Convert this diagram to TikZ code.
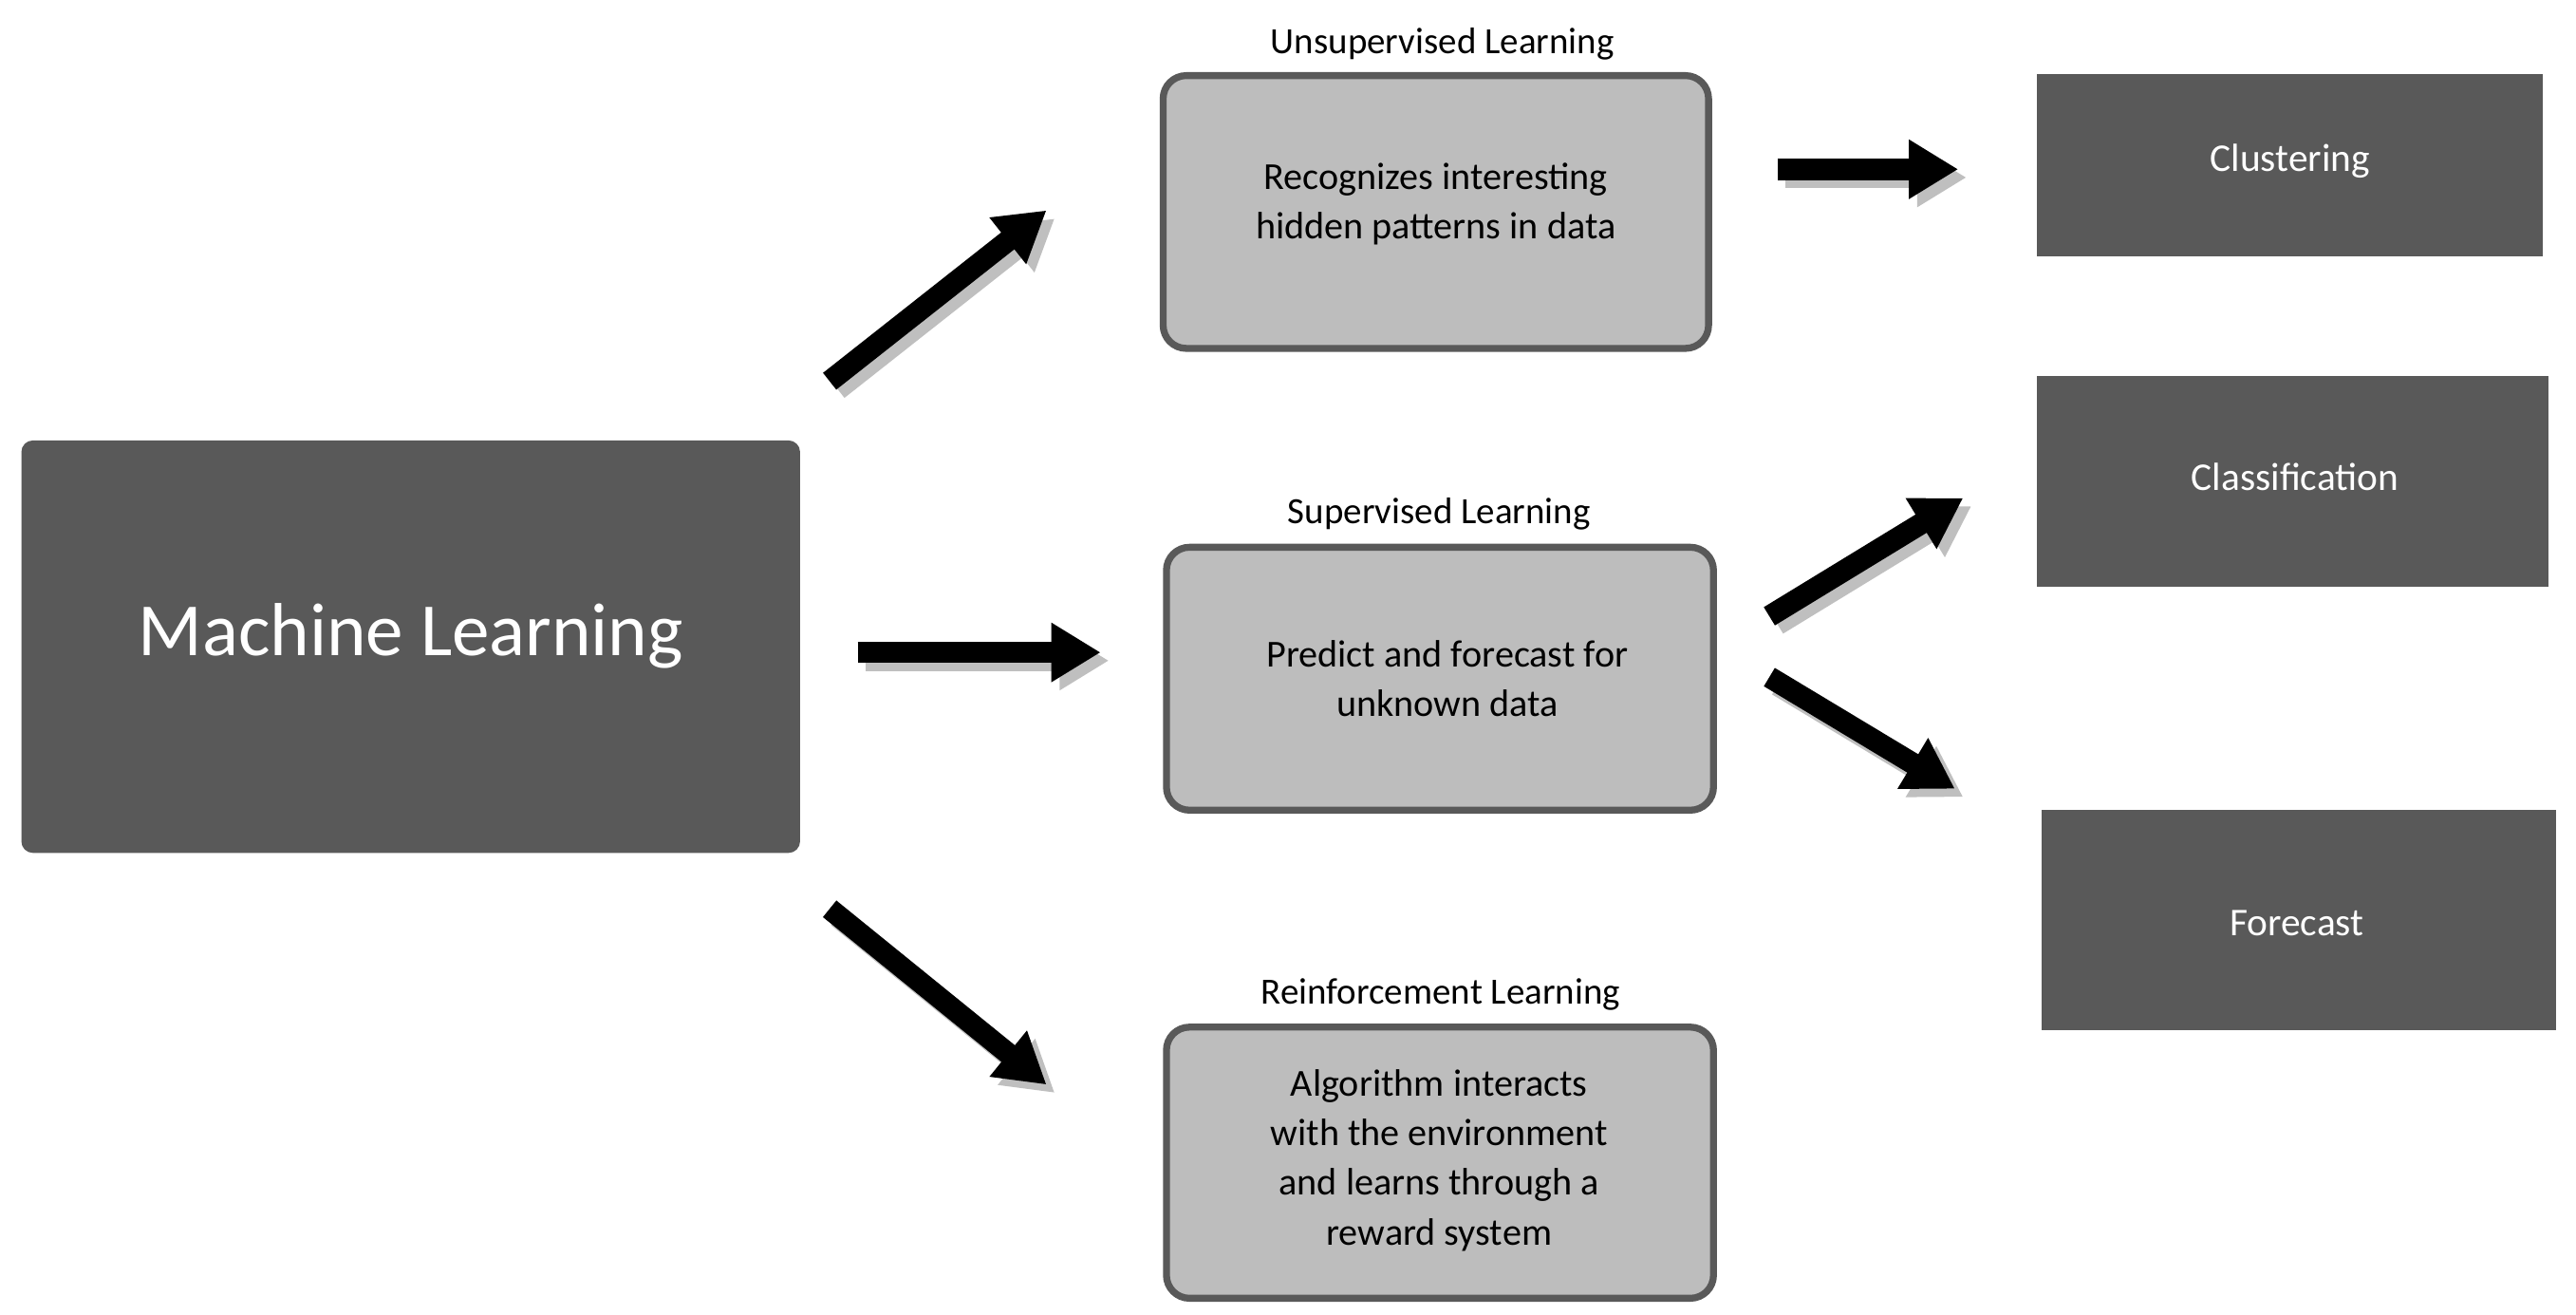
\documentclass[tikz,border=0pt]{standalone}
\usepackage{fontspec}
\setmainfont{Carlito}
\usetikzlibrary{arrows.meta}
\definecolor{dk}{HTML}{595959}
\definecolor{lt}{HTML}{BDBDBD}
\begin{document}
\begin{tikzpicture}[x=0.01cm,y=-0.01cm,
  dkbox/.style={fill=dk,draw=dk,text=white,rounded corners=1pt},
  ltbox/.style={fill=lt,draw=dk,line width=1.2pt,rounded corners=4pt,align=center,font=\fontsize{6.6}{8.6}\selectfont},
  ttl/.style={font=\fontsize{6.4}{8}\selectfont},
  blk/.style={line width=0.13cm,-{Triangle[length=0.3cm,width=0.34cm]}},
  shd/.style={blk,draw=black!25}]
\useasboundingbox (0,0) rectangle (1568,800);
\fill[dk,rounded corners=2pt] (13,268) rectangle (487,519);
\node[text=white,font=\fontsize{13}{15}\selectfont] (ml) at (250,387) {Machine Learning};
\draw[ltbox] (708,46) rectangle (1040,212);
\node[align=center,font=\fontsize{6.6}{8.6}\selectfont] (un) at (874,124) {Recognizes interesting\\hidden patterns in data};
\node[ttl] (unt) at (878,27) {Unsupervised Learning};
\draw[ltbox] (710,333) rectangle (1043,493);
\node[align=center,font=\fontsize{6.6}{8.6}\selectfont] (su) at (881,413) {Predict and forecast for\\unknown data};
\node[ttl] (sut) at (876,313) {Supervised Learning};
\draw[ltbox] (710,625) rectangle (1043,790);
\node[align=center,font=\fontsize{6.6}{8.6}\selectfont] (re) at (876,706) {Algorithm interacts\\with the environment\\and learns through a\\reward system};
\node[ttl] (ret) at (877,605) {Reinforcement Learning};
\fill[dk] (1240,45) rectangle (1548,156);
\node[text=white,font=\fontsize{6.8}{8}\selectfont] (cl) at (1394,98) {Clustering};
\fill[dk] (1240,229) rectangle (1551,357);
\node[text=white,font=\fontsize{6.8}{8}\selectfont] (ca) at (1397,290) {Classification};
\fill[dk] (1243,493) rectangle (1556,627);
\node[text=white,font=\fontsize{6.8}{8}\selectfont] (fo) at (1398,562) {Forecast};
\foreach \a/\b/\c/\d/\n in {505/232/637/128/1,522/397/670/397/2,505/553/637/660/3,1082/103/1192/103/4,1077/375/1195/303/5,1077/412/1190/480/6}{
  \coordinate (s\n) at (\a,\b); \coordinate (e\n) at (\c,\d);
  \draw[shd] ([shift={(5,5)}]s\n) -- ([shift={(5,5)}]e\n);
  \draw[blk] (s\n) -- (e\n);
}
\end{tikzpicture}
\end{document}
